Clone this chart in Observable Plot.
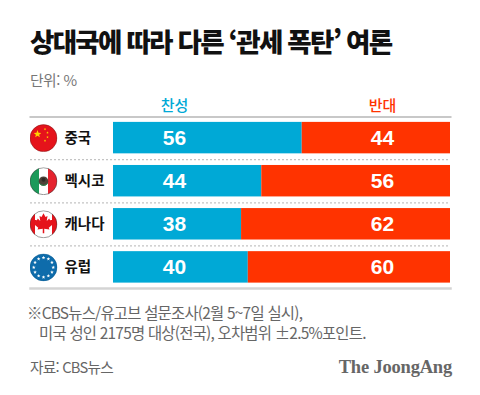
<!DOCTYPE html>
<html lang="ko">
<head>
<meta charset="utf-8">
<script src="https://cdn.jsdelivr.net/npm/d3@7"></script>
<script src="https://cdn.jsdelivr.net/npm/@observablehq/plot@0.6"></script>
<style>
html,body{margin:0;padding:0;background:#fff;width:480px;height:395px;overflow:hidden;font-family:"Noto Sans CJK KR","Noto Sans",sans-serif}
#head{position:relative;height:80px}
#title{position:absolute;left:30px;top:22px;font-size:26.5px;line-height:38px;font-weight:900;letter-spacing:-1.7px;color:#111;white-space:nowrap;margin:0}
#unit{position:absolute;left:30px;top:69px;font-size:14.8px;line-height:22px;color:#777;letter-spacing:-.5px}
#chart svg{display:block}
#foot{position:relative;height:95px;color:#666;font-size:15.4px;letter-spacing:-.75px;white-space:nowrap}
#n1{position:absolute;left:27px;top:2px;line-height:20px}
#n2{position:absolute;left:39px;top:22px;line-height:20px}
#src{position:absolute;left:30px;top:57px;line-height:20px;font-size:14.7px}
#logo{position:absolute;right:28px;top:56px;line-height:22px;font-family:"Liberation Serif",serif;font-weight:700;font-size:18.5px;letter-spacing:-.2px;color:#666}
</style>
</head>
<body>
<div id="head">
  <h1 id="title">상대국에 따라 다른 ‘관세 폭탄’ 여론</h1>
  <div id="unit">단위: %</div>
</div>
<div id="chart"></div>
<div id="foot">
  <div id="n1">※CBS뉴스/유고브 설문조사(2월 5~7일 실시),</div>
  <div id="n2">미국 성인 2175명 대상(전국), 오차범위 ±2.5%포인트.</div>
  <div id="src">자료: CBS뉴스</div>
  <div id="logo">The JoongAng</div>
</div>
<script>
const countries = ["중국", "멕시코", "캐나다", "유럽"];
const stances = ["찬성", "반대"];
const favor = [56, 44, 38, 40];
const oppose = [44, 56, 62, 60];
const stanceColors = ["#00a9d6", "#ff3300"];

const uri = (s, ring = "#333") => "data:image/svg+xml," + encodeURIComponent(
  `<svg xmlns="http://www.w3.org/2000/svg" viewBox="0 0 56 56"><defs><clipPath id="c"><circle cx="28" cy="28" r="27"/></clipPath></defs><g clip-path="url(#c)">${s}</g><circle cx="28" cy="28" r="27" fill="none" stroke="${ring}" stroke-width="1"/></svg>`);
const star = (cx, cy, r, fill) => {
  const p = d3.range(10).map(i => {
    const a = -Math.PI / 2 + i * Math.PI / 5, q = i % 2 ? r * .42 : r;
    return [cx + q * Math.cos(a), cy + q * Math.sin(a)].join(",");
  });
  return `<polygon points="${p.join(" ")}" fill="${fill}"/>`;
};
const leaf = "M28 6l4 7.500 4-2-1.500 10 5-5 1.500 3.500 6-1-2 6.500 3 1.500-9.500 8 1.500 3.500-10.500-1.500v9h-3v-9l-10.500 1.500 1.500-3.500-9.500-8 3-1.500-2-6.500 6 1 1.500-3.500 5 5-1.500-10 4 2z";
const flags = [
  uri(`<rect width="56" height="56" fill="#e5131b"/>${star(16, 20, 8, "#ffd400")}${star(31, 10, 2.6, "#ffd400")}${star(36, 17, 2.6, "#ffd400")}${star(36, 26, 2.6, "#ffd400")}${star(31, 33, 2.6, "#ffd400")}`, "#7a1a1a"),
  uri(`<rect width="19" height="56" fill="#1c9a5a"/><rect x="19" width="18" height="56" fill="#fff"/><rect x="37" width="19" height="56" fill="#e5232e"/><circle cx="28" cy="28" r="9.500" fill="#4d4238"/><circle cx="28" cy="25" r="4" fill="#2f2a25"/><path d="M19 32q9 9 18 0" stroke="#2f8f57" stroke-width="2" fill="none"/>`),
  uri(`<rect width="56" height="56" fill="#fff"/><rect width="11" height="56" fill="#e5131b"/><rect x="45" width="11" height="56" fill="#e5131b"/><path d="${leaf}" fill="#e5131b"/>`),
  uri(`<rect width="56" height="56" fill="#0e6cab"/>${d3.range(12).map(i => star(28 + 19.500 * Math.cos(i * Math.PI / 6), 28 + 19.500 * Math.sin(i * Math.PI / 6), 3.800, "#fff")).join("")}`, "#0b5a90")
];

const rows = stances.flatMap((stance, s) =>
  countries.map((country, i) => ({country, stance, value: (s ? oppose : favor)[i]})));
const flagRows = countries.map((country, i) => ({country, src: flags[i]}));

const plot = Plot.plot({
  width: 480,
  height: 220,
  marginLeft: 30,
  marginRight: 30,
  marginTop: 36.5,
  marginBottom: 12,
  style: {background: "#fff", fontFamily: '"Noto Sans CJK KR", sans-serif'},
  x: {domain: [0, 100], range: [113, 450], axis: null},
  y: {domain: countries, axis: null, paddingInner: 0.27, paddingOuter: 0.125, round: false},
  color: {domain: stances, range: stanceColors},
  marks: [
    Plot.frame({anchor: "top", stroke: "#c8c8c8", strokeWidth: 2}),
    Plot.frame({anchor: "bottom", stroke: "#d4d4d4", strokeWidth: 2.5}),
    Plot.ruleY(countries.slice(0, -1), {y: d => d, dy: 21.6, stroke: "#c4c4c4", strokeWidth: 1.2, strokeDasharray: "2,2"}),
    Plot.barX(rows, {x: "value", y: "country", fill: "stance"}),
    Plot.image(flagRows, {y: "country", src: "src", frameAnchor: "left", dx: 13, width: 28, height: 28}),
    Plot.text(countries, {y: d => d, text: d => d, frameAnchor: "left", dx: 34, textAnchor: "start", fontSize: 14.5, fontWeight: 700, fill: "#111", letterSpacing: "-0.4px"}),
    Plot.text(rows.filter(d => d.stance === stances[0]), {y: "country", text: d => String(d.value), frameAnchor: "left", dx: 144, textAnchor: "middle", fontSize: 21, fontWeight: 700, fill: "#fff", fontFamily: "Liberation Sans", letterSpacing: "-1px"}),
    Plot.text(rows.filter(d => d.stance === stances[1]), {y: "country", text: d => String(d.value), frameAnchor: "right", dx: -68, textAnchor: "middle", fontSize: 21, fontWeight: 700, fill: "#fff", fontFamily: "Liberation Sans", letterSpacing: "-1px"}),
    Plot.text([stances[0]], {text: d => d, frameAnchor: "top-left", dx: 144, dy: -11, textAnchor: "middle", lineAnchor: "middle", fontSize: 15, fontWeight: 500, fill: stanceColors[0], letterSpacing: "-0.6px"}),
    Plot.text([stances[1]], {text: d => d, frameAnchor: "top-right", dx: -68, dy: -11, textAnchor: "middle", lineAnchor: "middle", fontSize: 15, fontWeight: 500, fill: stanceColors[1], letterSpacing: "-0.6px"})
  ]
});
document.getElementById("chart").append(plot);
</script>
</body>
</html>
